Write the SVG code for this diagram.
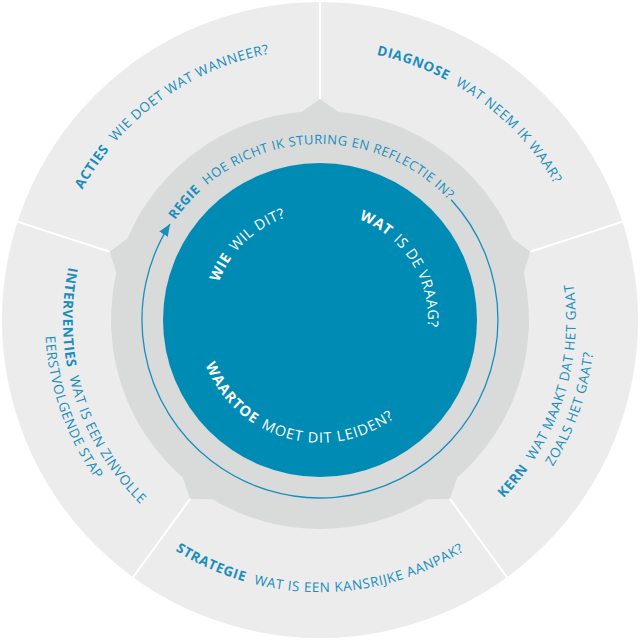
<svg xmlns="http://www.w3.org/2000/svg" width="640" height="640" viewBox="0 0 640 640">
<style>
.t{font-family:"Open Sans","Liberation Sans",sans-serif;fill:#1a8dbd;font-size:13.5px;letter-spacing:0.6px}
.r{font-family:"Open Sans","Liberation Sans",sans-serif;fill:#1a8dbd;font-size:13px;letter-spacing:0.5px}
.w{font-family:"Open Sans","Liberation Sans",sans-serif;fill:#ffffff;font-size:14.5px;letter-spacing:0.5px}
.b{font-weight:700}
.div{stroke:#ffffff;stroke-width:2}
</style>
<defs>
<path id="pActies" d="M76.4,438.8 A271,271 0 0,1 508.3,125.1"/>
<path id="pDiag" d="M131.7,125.1 A271,271 0 0,1 563.6,438.8"/>
<path id="pStrat" d="M52.1,367.2 A272,272 0 0,0 587.9,367.2"/>
<path id="pKern1" d="M284.6,573.5 A256,256 0 0,0 440.2,94.0"/>
<path id="pKern2" d="M274.6,591.2 A275,275 0 0,0 455.4,80.6"/>
<path id="pInt1" d="M203.3,91.0 A257,257 0 0,0 351.3,575.1"/>
<path id="pInt2" d="M184.6,80.6 A275,275 0 0,0 365.4,591.2"/>
<path id="pRegie" d="M144.9,302.2 A176,176 0 0,1 490.6,276.8"/>
<path id="pWie" d="M230.5,380.4 A108,108 0 0,1 383.5,232.6"/>
<path id="pWat" d="M278.7,220.2 A108,108 0 0,1 393.0,399.6"/>
<path id="pWaartoe" d="M199.1,297.4 A123,123 0 0,0 435.1,363.3"/>
<marker id="arrow" markerUnits="userSpaceOnUse" markerWidth="12" markerHeight="10" refX="12" refY="5" orient="auto">
<path d="M0,0 L12,5 L0,10 z" fill="#1a8dbd"/>
</marker>
</defs>

<g id="outer-ring">
<circle cx="320" cy="320" r="318" fill="#ececec"/>
<line class="div" x1="320" y1="99" x2="320" y2="0"/>
<line class="div" x1="530.2" y1="251.7" x2="624.4" y2="221.1"/>
<line class="div" x1="449.9" y1="498.8" x2="508.1" y2="578.9"/>
<line class="div" x1="190.1" y1="498.8" x2="131.9" y2="578.9"/>
<line class="div" x1="109.8" y1="251.7" x2="15.6" y2="221.1"/>
</g>

<g id="diagnose">
<text class="t"><textPath href="#pDiag" startOffset="50%" text-anchor="middle"><tspan class="b">DIAGNOSE</tspan><tspan dx="5"> WAT NEEM IK WAAR?</tspan></textPath></text>
</g>
<g id="kern">
<text class="t"><textPath href="#pKern1" startOffset="50%" text-anchor="middle"><tspan class="b">KERN</tspan><tspan dx="5"> WAT MAAKT DAT HET GAAT</tspan></textPath></text>
<text class="t"><textPath href="#pKern2" startOffset="50%" text-anchor="middle">ZOALS HET GAAT?</textPath></text>
</g>
<g id="strategie">
<text class="t"><textPath href="#pStrat" startOffset="50%" text-anchor="middle"><tspan class="b">STRATEGIE</tspan><tspan dx="5"> WAT IS EEN KANSRIJKE AANPAK?</tspan></textPath></text>
</g>
<g id="interventies">
<text class="t"><textPath href="#pInt1" startOffset="50%" text-anchor="middle"><tspan class="b">INTERVENTIES</tspan><tspan dx="5"> WAT IS EEN ZINVOLLE</tspan></textPath></text>
<text class="t"><textPath href="#pInt2" startOffset="50%" text-anchor="middle">EERSTVOLGENDE STAP</textPath></text>
</g>
<g id="acties">
<text class="t"><textPath href="#pActies" startOffset="50%" text-anchor="middle"><tspan class="b">ACTIES</tspan><tspan dx="5"> WIE DOET WAT WANNEER?</tspan></textPath></text>
</g>

<g id="regie">
<path d="M301.8,111.8 L320,99 L338.2,111.8 A209,209 0 0,1 512.4,238.3 L530.2,251.7 L523.6,273.0 A209,209 0 0,1 457.1,477.7 L449.9,498.8 L427.6,499.2 A209,209 0 0,1 212.4,499.2 L190.1,498.8 L182.9,477.7 A209,209 0 0,1 116.4,273.0 L109.8,251.7 L127.6,238.3 A209,209 0 0,1 301.8,111.8 Z" fill="#d9dbdb"/>
<text class="r"><textPath href="#pRegie" startOffset="50%" text-anchor="middle"><tspan class="b">REGIE</tspan><tspan dx="4"> HOE RICHT IK STURING EN REFLECTIE IN?</tspan></textPath></text>
</g>

<g id="connectors">
<path d="M451.2,199.7 A178,178 0 1,1 170.0,224.1" fill="none" stroke="#1a8dbd" stroke-width="1.3" marker-end="url(#arrow)"/>
</g>

<g id="center">
<circle cx="320" cy="320" r="157" fill="#008bb5"/>
<text class="w"><textPath href="#pWie" startOffset="50%" text-anchor="middle"><tspan class="b">WIE</tspan><tspan dx="2"> WIL DIT?</tspan></textPath></text>
<text class="w"><textPath href="#pWat" startOffset="50%" text-anchor="middle"><tspan class="b">WAT</tspan><tspan dx="2"> IS DE VRAAG?</tspan></textPath></text>
<text class="w" style="letter-spacing:1px"><textPath href="#pWaartoe" startOffset="50%" text-anchor="middle"><tspan class="b">WAARTOE</tspan><tspan dx="2"> MOET DIT LEIDEN?</tspan></textPath></text>
</g>
</svg>
